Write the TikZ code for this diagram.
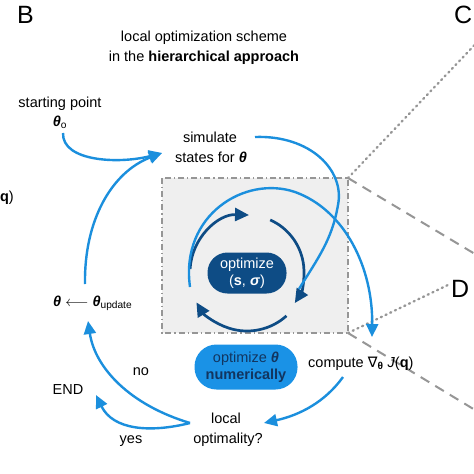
\documentclass[tikz,border=0pt]{standalone}
\usepackage{fontspec}
\setmainfont{Liberation Sans}
\newfontfamily\dejavu{DejaVu Sans}
\usetikzlibrary{arrows.meta}
\definecolor{lblue}{RGB}{27,143,221}
\definecolor{navy}{RGB}{14,76,133}
\definecolor{pillblue}{RGB}{26,146,230}
\definecolor{pilltext}{RGB}{18,53,95}
\definecolor{lgray}{RGB}{150,150,150}
\definecolor{boxfill}{RGB}{239,239,239}
\newcommand{\bth}{\textbf{\textit{θ}}}
\tikzset{
  every node/.style={font=\fontsize{14.5}{17}\selectfont, inner sep=0pt},
  big/.style={font=\fontsize{25}{25}\selectfont},
  larrow/.style={draw=lblue, line width=2.4pt, -{Triangle[length=13pt,width=12pt]}},
  lline/.style={draw=lblue, line width=2.4pt},
  narrow/.style={draw=navy, line width=2.7pt, -{Triangle[length=14pt,width=13pt]}},
  dotline/.style={draw=lgray, line width=2.3pt, line cap=round, dash pattern=on 1.2pt off 4pt},
  dashline/.style={draw=lgray, line width=2pt, dash pattern=on 10pt off 7pt},
  pill/.style={rounded corners=20pt, align=center},
}
\begin{document}
\begin{tikzpicture}[x=1pt,y=-1pt]
\useasboundingbox[fill=white] (0,0) rectangle (474,474);
% gray box
\coordinate (bx1) at (162,178);
\coordinate (bx2) at (348,333);
\coordinate (btr) at (348,178);
\coordinate (bbr) at (348,333);
\path[fill=boxfill] (bx1) rectangle (bx2);
\draw[lgray, line width=1.5pt, dash pattern=on 6pt off 3pt on 1.2pt off 3pt] (bx1) rectangle (bx2);
% zoom lines
\coordinate (cdot) at (486,33);
\coordinate (cdash) at (480,257);
\coordinate (ddot) at (450,284);
\coordinate (ddash) at (480,413);
\draw[dotline] (btr) -- (cdot);
\draw[dashline] (btr) -- (cdash);
\draw[dotline] (bbr) -- (ddot);
\draw[dashline] (bbr) -- (ddash);

% labels
\node[big, anchor=base west] (B) at (17,23) {B};
\node[big, anchor=base west] (C) at (454,23) {C};
\node[big, anchor=base west] (D) at (451,297) {D};
\node[anchor=base] (t1) at (204,41) {local optimization scheme};
\node[anchor=base] (t2) at (204,61) {in the \textbf{hierarchical approach}};
\node[anchor=base east] (qq) at (14,201) {(\textbf{q})};

\node[anchor=base] (sp) at (60,107) {starting point};
\node[anchor=base] (th0) at (60,126) {\bth\textsubscript{o}};
\node[anchor=base] (sim1) at (210,142) {simulate};
\node[anchor=base] (sim2) at (211,162) {states for \bth};
\node[anchor=base west] (upd) at (53,306) {\bth\ $\longleftarrow$ \bth\textsubscript{update}};
\node[anchor=base] (END) at (68,394) {END};
\node[anchor=base] (no) at (141,375) {no};
\node[anchor=base] (yes) at (131,443) {yes};
\node[anchor=base] (lo1) at (226,423) {local};
\node[anchor=base] (lo2) at (228,443) {optimality?};
\node[anchor=base west] (comp) at (308,367) {compute {\dejavu ∇}\textsubscript{\textbf{θ}} \textit{J}(\textbf{q})};

% pills
\node[pill, fill=navy, text=white, minimum width=79pt, minimum height=41pt] (opt1) at (247,273) {optimize\\(\textbf{s}, \textbf{\textit{σ}})};
\node[pill, fill=pillblue, text=pilltext, minimum width=103pt, minimum height=45pt, rounded corners=22pt] (opt2) at (246,367) {optimize \bth\\\textbf{numerically}};

% dark inner cycle
\coordinate (cc) at (247,272);
\draw[narrow] ([shift={(183:57)}]cc) arc[start angle=183, end angle=272, radius=57];
\draw[narrow] ([shift={(294:57)}]cc) arc[start angle=294, end angle=393, radius=57];
\draw[narrow] ([shift={(48:59)}]cc) arc[start angle=48, end angle=149, radius=59];

% light blue arrows
\coordinate (a0) at (63,133);
\coordinate (simin) at (162,153);
\draw[larrow] (a0) .. controls (62,162) and (120,164) .. (simin);
\coordinate (u0) at (85,284);
\draw[larrow] (u0) .. controls (84,220) and (112,172) .. (simin);
\coordinate (s0) at (255,137);
\coordinate (s1) at (338,205);
\coordinate (s2) at (299,289);
\draw[lline] (s0) .. controls (310,135) and (345,170) .. (s1) .. controls (332,240) and (318,258) .. (s2);
\coordinate (i0) at (190,287);
\coordinate (i1) at (295,192);
\coordinate (i2) at (372,337);
\draw[larrow] (i0) .. controls (180,215) and (245,175) .. (i1) .. controls (345,210) and (373,268) .. (i2);
\coordinate (c0) at (343,377);
\coordinate (c1) at (264,423);
\draw[larrow] (c0) .. controls (325,402) and (300,415) .. (c1);
\coordinate (l0) at (190,423);
\coordinate (n1) at (88,321);
\coordinate (y1) at (96,395);
\draw[larrow] (l0) .. controls (130,405) and (95,368) .. (n1);
\draw[larrow] (l0) .. controls (150,433) and (113,430) .. (y1);
\end{tikzpicture}
\end{document}
